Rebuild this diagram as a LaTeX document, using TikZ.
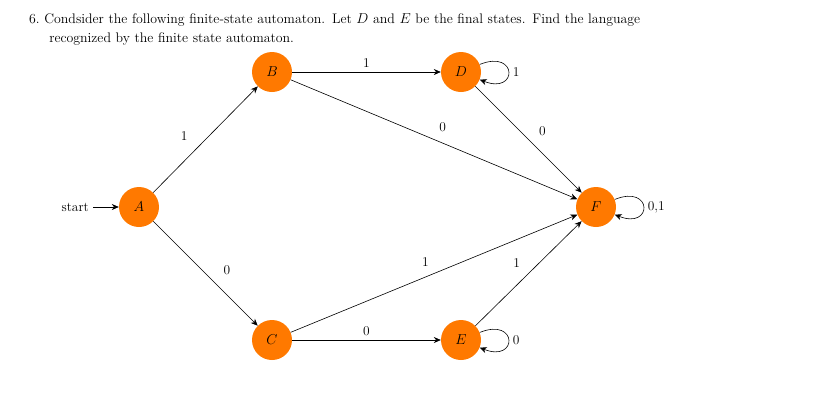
\documentclass[tikz,border=0pt]{standalone}
\usepackage{fontspec}
\usetikzlibrary{arrows.meta}
\begin{document}
\begin{tikzpicture}[x=1bp,y=-1bp,
  st/.style={circle,fill=orange!95!red,minimum size=40bp,inner sep=0pt,font=\fontsize{13.5}{16}\selectfont},
  ed/.style={-{Stealth[length=7bp,width=6bp]},line width=0.6bp},
  lb/.style={font=\fontsize{13.5}{16}\selectfont,inner sep=0pt},
  lp/.style={-{Stealth[length=7bp,width=6bp]},line width=0.6bp,looseness=7,out=22,in=-22}]
\useasboundingbox (0,0) rectangle (834,405);
\node[anchor=north west,align=left,font=\fontsize{13.9}{20}\selectfont,text width=800bp,inner sep=0pt] (t) at (29,13)
 {6.~Condsider the following finite-state automaton. Let $D$ and $E$ be the final states. Find the language\\
 \hspace*{1.45em}recognized by the finite state automaton.};
\node[st] (A) at (139,207) {$A$};
\node[st] (B) at (272,72) {$B$};
\node[st] (D) at (461,72) {$D$};
\node[st] (F) at (596,207) {$F$};
\node[st] (C) at (272,340) {$C$};
\node[st] (E) at (461,340) {$E$};
\node[lb,anchor=east] (s) at (89,207) {start};
\draw[ed] (s.east)++(4,0) -- (A);
\draw[ed] (A) -- node[lb,pos=0.42,xshift=-13bp,yshift=12bp] {1} (B);
\draw[ed] (A) -- node[lb,pos=0.58,xshift=13bp,yshift=12bp] {0} (C);
\draw[ed] (B) -- node[lb,yshift=9bp] {1} (D);
\draw[ed] (C) -- node[lb,yshift=9bp] {0} (E);
\draw[ed] (B) -- node[lb,pos=0.53,yshift=16bp] {0} (F);
\draw[ed] (C) -- node[lb,pos=0.47,yshift=15bp] {1} (F);
\draw[ed] (D) -- node[lb,pos=0.5,xshift=14bp,yshift=8bp] {0} (F);
\draw[ed] (E) -- node[lb,pos=0.52,xshift=-14bp,yshift=8bp] {1} (F);
\draw[lp] (D) to node[lb,right=4bp] {1} (D);
\draw[lp] (E) to node[lb,right=4bp] {0} (E);
\draw[lp] (F) to node[lb,right=4bp] {0,1} (F);
\end{tikzpicture}
\end{document}
